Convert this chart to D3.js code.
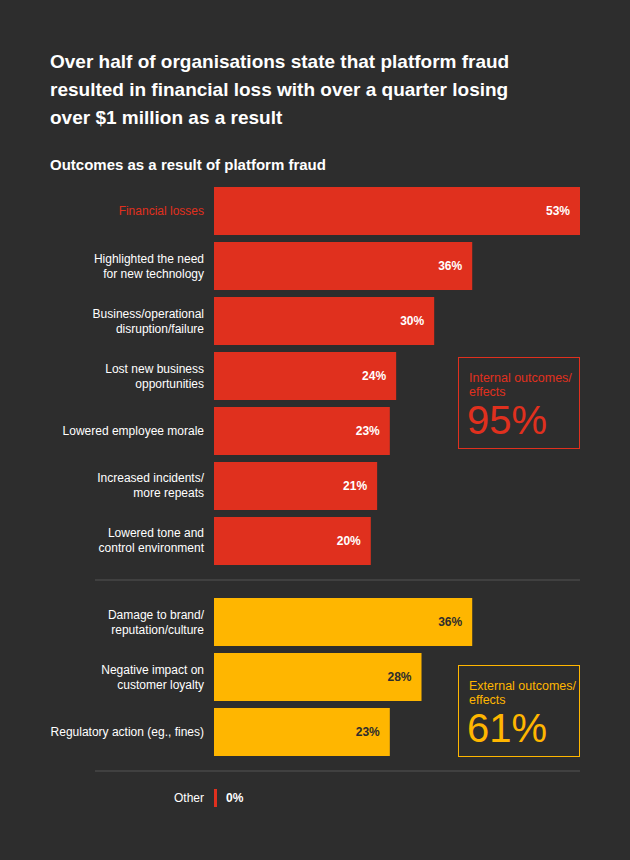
<!DOCTYPE html>
<html><head><meta charset="utf-8">
<script src="https://cdn.jsdelivr.net/npm/d3@7"></script>
<style>body{margin:0;background:#2d2d2d;font-family:"Liberation Sans",Arial,sans-serif}</style>
</head><body><svg id="chart"></svg>
<script>
// Chart data
const internalLabels = [
  ['Financial losses'],
  ['Highlighted the need', 'for new technology'],
  ['Business/operational', 'disruption/failure'],
  ['Lost new business', 'opportunities'],
  ['Lowered employee morale'],
  ['Increased incidents/', 'more repeats'],
  ['Lowered tone and', 'control environment']
];
const internalValues = [53, 36, 30, 24, 23, 21, 20];
const externalLabels = [
  ['Damage to brand/', 'reputation/culture'],
  ['Negative impact on', 'customer loyalty'],
  ['Regulatory action (eg., fines)']
];
const externalValues = [36, 28, 23];
const otherValue = 0;
const summaries = [
  { lines: ['Internal outcomes/', 'effects'], total: '95%', color: '#e0301e', y: 357 },
  { lines: ['External outcomes/', 'effects'], total: '61%', color: '#ffb600', y: 665 }
];

const W = 630, H = 860, x0 = 214;
const RED = '#e0301e', YELLOW = '#ffb600';

const svg = d3.select('#chart').attr('width', W).attr('height', H);
svg.append('rect').attr('width', W).attr('height', H).attr('fill', '#2d2d2d');

// Title
['Over half of organisations state that platform fraud',
 'resulted in financial loss with over a quarter losing',
 'over $1 million as a result'].forEach((t, i) => {
  svg.append('text').attr('x', 50).attr('y', 68 + i * 28)
    .attr('fill', '#fff').style('font-size', '19px').style('font-weight', 'bold').text(t);
});
svg.append('text').attr('x', 50).attr('y', 170).attr('fill', '#fff')
  .style('font-size', '15px').style('font-weight', 'bold').text('Outcomes as a result of platform fraud');

// bars start with a small offset so short bars still fit their labels
const x = d3.scaleLinear().domain([0, 53]).range([30, 366]);

function drawGroup(labels, values, top, color, textColor) {
  const y = d3.scaleBand().domain(d3.range(values.length))
    .range([top, top + values.length * 55 - 7]).paddingInner(0.127).paddingOuter(0);
  const g = svg.append('g');
  values.forEach((v, i) => {
    const yy = y(i), h = y.bandwidth();
    g.append('rect').attr('x', x0).attr('y', yy).attr('width', x(v)).attr('height', h).attr('fill', color);
    g.append('text').attr('x', x0 + x(v) - 10).attr('y', yy + h / 2 + 4)
      .attr('text-anchor', 'end').attr('fill', textColor)
      .style('font-size', '12px').style('font-weight', 'bold').text(v + '%');
    const lines = labels[i];
    lines.forEach((l, j) => {
      g.append('text').attr('x', 204)
        .attr('y', yy + h / 2 + 4 + (j - (lines.length - 1) / 2) * 15)
        .attr('text-anchor', 'end')
        .attr('fill', i === 0 && color === RED ? RED : '#fff')
        .style('font-size', '12px').text(l);
    });
  });
}

drawGroup(internalLabels, internalValues, 187, RED, '#fff');
drawGroup(externalLabels, externalValues, 598, YELLOW, '#2d2d2d');

// Dividers
[580, 771].forEach(yv => {
  svg.append('line').attr('x1', 95).attr('x2', 580).attr('y1', yv).attr('y2', yv)
    .attr('stroke', '#555').attr('stroke-width', 1);
});

// Other
svg.append('rect').attr('x', x0).attr('y', 789).attr('width', 3).attr('height', 18).attr('fill', RED);
svg.append('text').attr('x', 204).attr('y', 802).attr('text-anchor', 'end').attr('fill', '#fff').style('font-size', '12px').text('Other');
svg.append('text').attr('x', 226).attr('y', 802).attr('fill', '#fff').style('font-size', '12px').style('font-weight', 'bold').text(otherValue + '%');

// Summary boxes
summaries.forEach(s => {
  svg.append('rect').attr('x', 458.5).attr('y', s.y + 0.5).attr('width', 121).attr('height', 91)
    .attr('fill', '#2d2d2d').attr('stroke', s.color).attr('stroke-width', 1);
  s.lines.forEach((l, j) => {
    svg.append('text').attr('x', 469).attr('y', s.y + 25 + j * 14).attr('fill', s.color)
      .style('font-size', '12.5px').text(l);
  });
  svg.append('text').attr('x', 467).attr('y', s.y + 77).attr('fill', s.color)
    .style('font-size', '40px').text(s.total);
});
</script>
</body></html>
